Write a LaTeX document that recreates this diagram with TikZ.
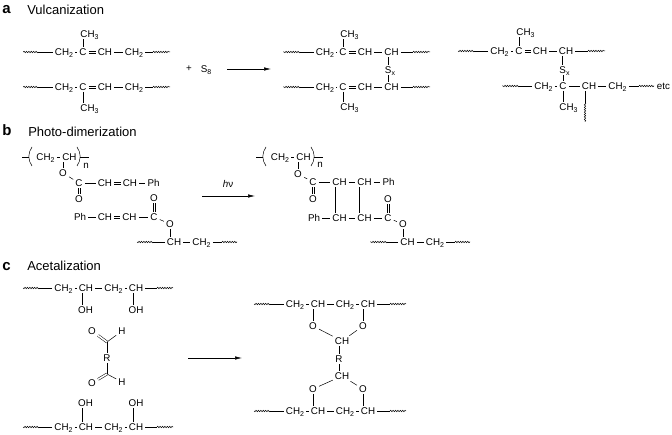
\documentclass[tikz,border=0pt]{standalone}
\usepackage{fontspec}
\setmainfont{Liberation Sans}
\usetikzlibrary{arrows.meta,decorations.pathmorphing}
\newcommand\subs[1]{\raisebox{-2.2pt}{\fontsize{7}{7}\selectfont #1}}
\newcommand\CHtwo{CH\subs{2}}
\newcommand\CHthree{CH\subs{3}}
\newcommand\Sx{S\subs{x}}
\begin{document}
\begin{tikzpicture}[x=1pt,y=-1pt,line width=.5pt,
    every node/.style = {shape=rectangle, inner xsep=2pt, inner ysep=1.5pt,
      text height=7pt, text depth=0pt,
      font=\fontsize{9.8}{11}\selectfont},
    panel/.style = {anchor=west, inner sep=0pt, font=\fontsize{15}{17}\selectfont\bfseries},
    heading/.style = {anchor=west, inner sep=0pt, font=\fontsize{13}{15}\selectfont},
    vbond/.style = {shorten <=5pt, shorten >=5pt},
    dbl/.style = {double, double distance=1.6pt},
    wavy/.style = {decorate, decoration={snake, amplitude=.7pt, segment length=2.4pt}},
    react/.style = {line width=.6pt, -{Latex[length=7pt,width=3.5pt]}}]
  \useasboundingbox (0,0) rectangle (672,435);

  % a
  \node[panel] (ta) at (2,10) {a};
  \node[heading] (tva) at (27,11) {Vulcanization};
  \node (a1) at (64,52) {\CHtwo};
  \node (a2) at (83,52) {C};
  \node (a3) at (105,52) {CH};
  \node (a4) at (134,52) {\CHtwo};
  \node (a5) at (89.5,34) {\CHthree};
  \node (a6) at (64,87) {\CHtwo};
  \node (a7) at (83,87) {C};
  \node (a8) at (105,87) {CH};
  \node (a9) at (134,87) {\CHtwo};
  \node (a10) at (89.5,108) {\CHthree};
  \node (plus) at (189,68) {+};
  \node (seight) at (206,69) {S\subs{8}};
  \coordinate (ar1) at (227,69);
  \coordinate (ar2) at (271,69);
  \draw[react] (ar1) -- (ar2);

  \node (d1) at (325,52) {\CHtwo};
  \node (d2) at (343,52) {C};
  \node (d3) at (365,52) {CH};
  \node (d4) at (391.5,52) {CH};
  \node (d5) at (349.5,34) {\CHthree};
  \node (s1) at (390,70) {\Sx};
  \node (d6) at (325,87) {\CHtwo};
  \node (d7) at (343,87) {C};
  \node (d8) at (365,87) {CH};
  \node (d9) at (391.5,87) {CH};
  \node (d10) at (349.5,107) {\CHthree};

  \node (e1) at (499.5,51) {\CHtwo};
  \node (e2) at (519,51) {C};
  \node (e3) at (540,51) {CH};
  \node (e4) at (566,51) {CH};
  \node (e5) at (525.5,32) {\CHthree};
  \node (s2) at (564.5,70) {\Sx};
  \node (f1) at (543.5,86) {\CHtwo};
  \node (f2) at (563,86) {C};
  \node (f3) at (589,86) {CH};
  \node (f4) at (617.5,86) {\CHtwo};
  \node (f5) at (568.5,107) {\CHthree};
  \node (etc) at (663.5,86) {etc};
  \coordinate (fk) at (585,103);
  \coordinate (fe) at (585,122);
  \draw ([xshift=-4pt]f3.south) -- (fk);
  \draw[wavy] (fk) -- (fe);

  % b
  \node[panel] (tb) at (2,132) {b};
  \node[heading] (tvb) at (28,133) {Photo-dimerization};
  \node (b1) at (45.5,157) {\CHtwo};
  \node (b2) at (69.5,157) {CH};
  \node (bn) at (86,165) {n};
  \node (b3) at (63,173) {O};
  \node (b4) at (79,183) {C};
  \node (b5) at (105,183) {CH};
  \node (b6) at (130,183) {CH};
  \node (b7) at (153.5,183) {Ph};
  \node (b8) at (79,199) {O};
  \node (b9) at (80,217) {Ph};
  \node (b10) at (105,217) {CH};
  \node (b11) at (129.5,217) {CH};
  \node (b12) at (154,217) {C};
  \node (b13) at (154,198) {O};
  \node (b14) at (170,224) {O};
  \node (b15) at (174,242) {CH};
  \node (b16) at (201.5,242) {\CHtwo};
  \node (hv) at (228,184) {\textit{h}ν};
  \coordinate (ar3) at (202,196);
  \coordinate (ar4) at (255,196);
  \draw[react] (ar3) -- (ar4);

  \node (g1) at (280,157) {\CHtwo};
  \node (g2) at (303.5,157) {CH};
  \node (gn) at (320,164) {n};
  \node (g3) at (298,174) {O};
  \node (g4) at (313,182) {C};
  \node (g5) at (339.5,182) {CH};
  \node (g6) at (364.5,182) {CH};
  \node (g7) at (388.5,182) {Ph};
  \node (g8) at (313,199) {O};
  \node (g9) at (314,218) {Ph};
  \node (g10) at (339.5,218) {CH};
  \node (g11) at (364.5,218) {CH};
  \node (g12) at (388,218) {C};
  \node (g13) at (388,199) {O};
  \node (g14) at (403,224) {O};
  \node (g15) at (407.5,242) {CH};
  \node (g16) at (435,242) {\CHtwo};

  % brackets of the two polymers
  \foreach \nm/\dx in {p/0,q/234}{
    \coordinate (\nm a) at (22+\dx,157);
    \coordinate (\nm b) at (29+\dx,157);
    \coordinate (\nm c) at (32+\dx,147);
    \coordinate (\nm d) at (32+\dx,166);
    \coordinate (\nm e) at (77+\dx,147);
    \coordinate (\nm f) at (77+\dx,166);
    \coordinate (\nm g) at (80+\dx,157);
    \coordinate (\nm h) at (89+\dx,157);
    \draw (\nm a) -- (\nm b);
    \draw (\nm g) -- (\nm h);
    \draw (\nm c) to[bend right=35] (\nm d);
    \draw (\nm e) to[bend left=35] (\nm f);
  }

  % c
  \node[panel] (tc) at (2,267) {c};
  \node[heading] (tvc) at (27,267) {Acetalization};
  \node (c1) at (63.5,288) {\CHtwo};
  \node (c2) at (86,288) {CH};
  \node (c3) at (113.5,288) {\CHtwo};
  \node (c4) at (136,288) {CH};
  \node (c5) at (85.5,310) {OH};
  \node (c6) at (136,310) {OH};
  \node (m1) at (92,331) {O};
  \node (m2) at (122,331) {H};
  \node (m3) at (107,358) {R};
  \node (m4) at (92,383) {O};
  \node (m5) at (122,382) {H};
  \coordinate (m6) at (107,342);
  \coordinate (m7) at (107,374);
  \node (c7) at (63.5,427) {\CHtwo};
  \node (c8) at (86,427) {CH};
  \node (c9) at (113.5,427) {\CHtwo};
  \node (c10) at (136,427) {CH};
  \node (c11) at (85.5,403) {OH};
  \node (c12) at (136,403) {OH};
  \coordinate (ar5) at (188,358);
  \coordinate (ar6) at (242,358);
  \draw[react] (ar5) -- (ar6);

  \node (k1) at (295,304) {\CHtwo};
  \node (k2) at (318,304) {CH};
  \node (k3) at (345,304) {\CHtwo};
  \node (k4) at (368,304) {CH};
  \node (k5) at (313,326) {O};
  \node (k6) at (363,326) {O};
  \node (k7) at (342,341) {CH};
  \node (k8) at (339,359) {R};
  \node (k9) at (342,376) {CH};
  \node (k10) at (313,389) {O};
  \node (k11) at (363,389) {O};
  \node (k12) at (295,411) {\CHtwo};
  \node (k13) at (318,411) {CH};
  \node (k14) at (345,411) {\CHtwo};
  \node (k15) at (368,411) {CH};

  % single bonds, double bonds, upright bonds
  \foreach \p/\q in {a1/a2,a3/a4,a6/a7,a8/a9,d1/d2,d3/d4,d6/d7,d8/d9,
      e1/e2,e3/e4,f1/f2,f2/f3,f3/f4,b1/b2,b3/b4,b4/b5,b6/b7,b9/b10,b11/b12,b12/b14,
      b15/b16,g1/g2,g3/g4,g4/g5,g5/g6,g6/g7,g9/g10,g10/g11,g11/g12,g12/g14,g15/g16,
      c1/c2,c2/c3,c3/c4,c7/c8,c8/c9,c9/c10,m6/m2,m6/m3,m7/m3,m7/m5,
      k1/k2,k2/k3,k3/k4,k5/k7,k6/k7,k9/k10,k9/k11,k12/k13,k13/k14,k14/k15}
    \draw (\p) -- (\q);
  \foreach \p/\q in {a2/a3,a7/a8,d2/d3,d7/d8,e2/e3,b5/b6,b10/b11}{
    \draw[transform canvas={yshift=1.2pt}] (\p) -- (\q);
    \draw[transform canvas={yshift=-1.2pt}] (\p) -- (\q);
  }
  \foreach \p/\q in {b4/b8,b12/b13,g4/g8,g12/g13}{
    \draw[transform canvas={xshift=1.2pt}] (\p) -- (\q);
    \draw[transform canvas={xshift=-1.2pt}] (\p) -- (\q);
  }
  \foreach \p/\q in {m6/m1,m7/m4}
    \draw[dbl] (\p) -- (\q);
  \foreach \p/\q/\dx in {a2/a5/0,a7/a10/0,d2/d5/0,d7/d10/0,e2/e5/0,d4/s1/-3.5,d9/s1/-3.5,
      e4/s2/-3.5,f2/s2/0,f2/f5/0,b3/b2/0,b14/b15/0,g3/g2/0,g14/g15/0,g5/g10/-4.5,g6/g11/-5,
      c2/c5/-4,c4/c6/-3,c8/c11/-4,c10/c12/-3,k5/k2/0,k6/k4/0,k10/k13/0,k11/k15/0,k8/k7/0,k8/k9/0}
    \draw[vbond] ([xshift=\dx pt]\p.center) -- ([xshift=\dx pt]\p.center |- \q.center);

  % chain ends
  \foreach \nd/\kx/\ex in {a1/38/23,a4/153/170,a6/38/23,a9/153/170,d1/300/283,d4/413/430,
      d6/300/283,d9/413/430,e1/474/458,e4/588/605,f1/519/502,f4/639/654,b15/153/137,
      b16/222/237,g15/387/370,g16/455/470,c1/39/23,c4/157/173,c7/39/23,c10/157/173,
      k1/270/254,k4/390/406,k12/270/254,k15/390/406}{
    \coordinate (\nd k) at (\kx,0 |- \nd.center);
    \coordinate (\nd e) at (\ex,0 |- \nd.center);
    \draw (\nd) -- (\nd k);
    \draw[wavy] (\nd k) -- (\nd e);
  }
\end{tikzpicture}
\end{document}
